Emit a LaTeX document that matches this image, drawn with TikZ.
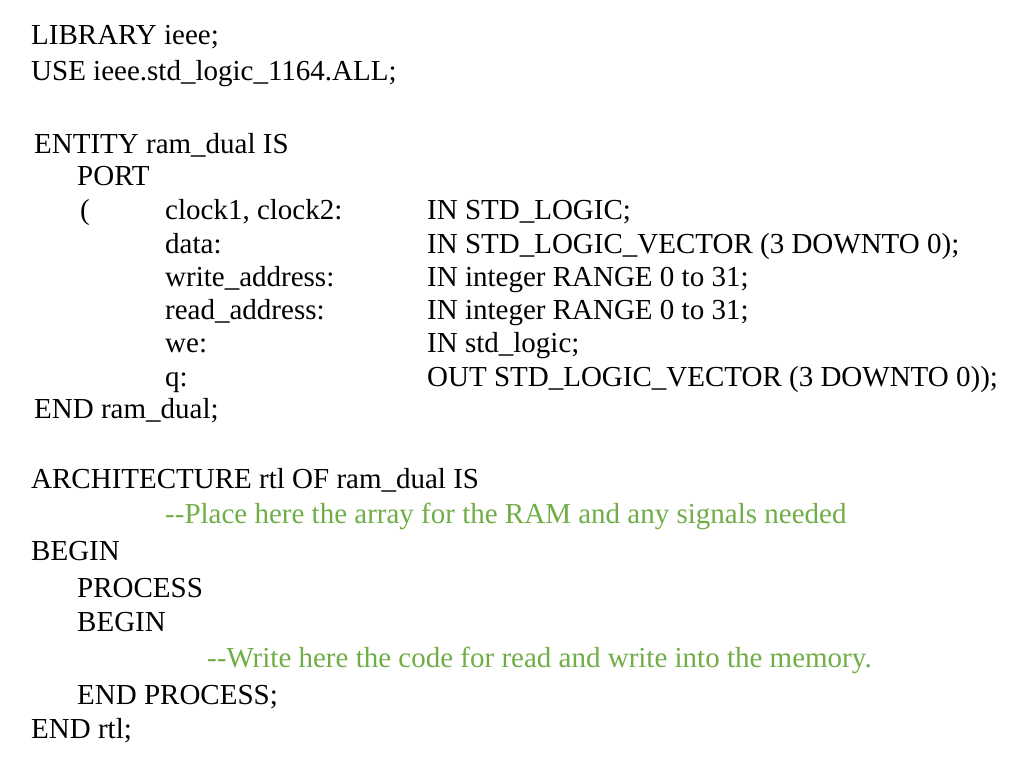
\documentclass[tikz,border=0pt]{standalone}
\usepackage{fontspec}
\setmainfont{Liberation Serif}
\definecolor{commentgreen}{RGB}{112,173,71}
\tikzset{
  codeline/.style={anchor=base west,inner sep=0pt,font=\fontsize{29}{35}\selectfont},
  codecomment/.style={codeline,text=commentgreen}
}
\begin{document}
\begin{tikzpicture}[x=1pt,y=1pt,yscale=-1,xscale=1]
    \useasboundingbox (0,0) rectangle (1024,768);

    % Library clause
    \draw (31,45) node (lib) [codeline] {LIBRARY ieee;};
    \draw (31,80) node (use) [codeline] {USE ieee.std\_logic\_1164.ALL;};

    % Entity
    \draw (34,153) node (ent) [codeline] {ENTITY ram\_dual IS};
    \draw (77,185) node (port) [codeline] {PORT};
    \draw (80,219) node (paren) [codeline] {(};
    \draw (165,219) node (clk) [codeline] {clock1, clock2:};
    \draw (427,219) node (clkT) [codeline] {IN STD\_LOGIC;};
    \draw (165,253) node (dat) [codeline] {data:};
    \draw (427,253) node (datT) [codeline] {IN STD\_LOGIC\_VECTOR (3 DOWNTO 0);};
    \draw (165,286) node (wad) [codeline] {write\_address:};
    \draw (427,286) node (wadT) [codeline] {IN integer RANGE 0 to 31;};
    \draw (165,319) node (rad) [codeline] {read\_address:};
    \draw (427,319) node (radT) [codeline] {IN integer RANGE 0 to 31;};
    \draw (165,352) node (we) [codeline] {we:};
    \draw (427,352) node (weT) [codeline] {IN std\_logic;};
    \draw (165,386) node (q) [codeline] {q:};
    \draw (427,386) node (qT) [codeline] {OUT STD\_LOGIC\_VECTOR (3 DOWNTO 0));};
    \draw (34,418) node (entEnd) [codeline] {END ram\_dual;};

    % Architecture
    \draw (31,488) node (arch) [codeline] {ARCHITECTURE rtl OF ram\_dual IS};
    \draw (165,523) node (cmA) [codecomment] {{-}{-}Place here the array for the RAM and any signals needed};
    \draw (31,560) node (archBegin) [codeline] {BEGIN};
    \draw (77,597) node (proc) [codeline] {PROCESS};
    \draw (77,631) node (procBegin) [codeline] {BEGIN};
    \draw (207,667) node (cmB) [codecomment] {{-}{-}Write here the code for read and write into the memory.};
    \draw (77,704) node (procEnd) [codeline] {END PROCESS;};
    \draw (31,738) node (archEnd) [codeline] {END rtl;};

\end{tikzpicture}
\end{document}
